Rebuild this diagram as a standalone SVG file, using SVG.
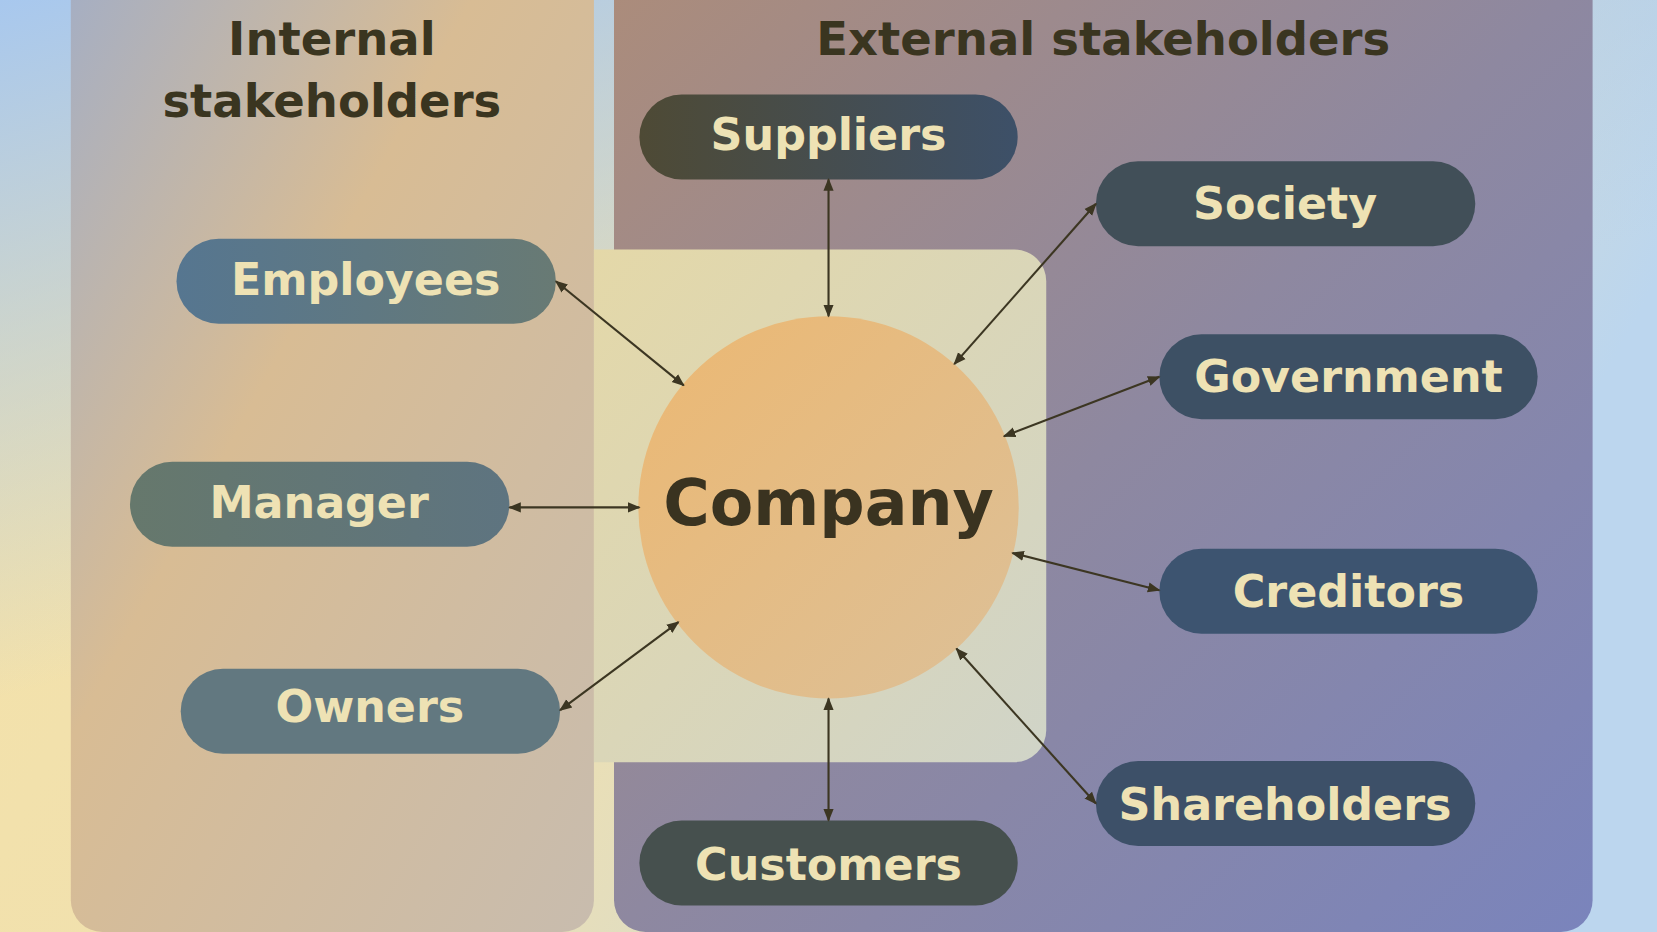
<svg xmlns="http://www.w3.org/2000/svg" width="1657" height="932" viewBox="0 0 1657 932">
<defs>
<linearGradient id="bg" x1="0" y1="0" x2="1" y2="0.3"><stop offset="0" stop-color="#f5e2a8"/><stop offset="0.5" stop-color="#efe0b0"/><stop offset="1" stop-color="#bcd6ee"/></linearGradient>
<linearGradient id="bgtl" x1="0" y1="0" x2="0.3" y2="0.6"><stop offset="0" stop-color="#a8c8ee"/><stop offset="1" stop-color="#a8c8ee" stop-opacity="0"/></linearGradient>
<linearGradient id="lp" x1="0" y1="0" x2="1" y2="1"><stop offset="0" stop-color="#a4aec4"/><stop offset="0.4" stop-color="#d8bc94"/><stop offset="1" stop-color="#c8bcae"/></linearGradient>
<linearGradient id="rp" x1="0" y1="0" x2="1" y2="1"><stop offset="0" stop-color="#ac8c7a"/><stop offset="0.5" stop-color="#8e88a0"/><stop offset="1" stop-color="#7a84bc"/></linearGradient>
<linearGradient id="cp" x1="0" y1="0" x2="1" y2="1"><stop offset="0" stop-color="#e4d8a8"/><stop offset="1" stop-color="#d0d4c8"/></linearGradient>
<linearGradient id="circ" x1="0" y1="0" x2="1" y2="1"><stop offset="0" stop-color="#ecb872"/><stop offset="1" stop-color="#dcc098"/></linearGradient>
<linearGradient id="pd" x1="0" y1="0" x2="1" y2="0"><stop offset="0" stop-color="#4e4a35"/><stop offset="1" stop-color="#3d5068"/></linearGradient>
<linearGradient id="pl" x1="0" y1="0" x2="1" y2="0"><stop offset="0" stop-color="#567690"/><stop offset="1" stop-color="#687a74"/></linearGradient>
<linearGradient id="pm" x1="0" y1="0" x2="1" y2="0"><stop offset="0" stop-color="#66786c"/><stop offset="1" stop-color="#5e7480"/></linearGradient>
<marker id="a" viewBox="0 0 10 10" refX="9" refY="5" markerWidth="6" markerHeight="6" orient="auto-start-reverse"><path d="M0,1 L10,5 L0,9 z" fill="#3c3622"/></marker>
</defs>
<style>
.t{font-family:"DejaVu Sans",sans-serif;font-weight:bold;font-size:42px;fill:#eee2b4;text-anchor:middle;dominant-baseline:central}
.h{font-family:"DejaVu Sans",sans-serif;font-weight:bold;font-size:44px;fill:#3a3520;text-anchor:middle}
.c{stroke:#3c3622;stroke-width:2;fill:none;marker-start:url(#a);marker-end:url(#a)}
</style>
<rect width="1657" height="932" fill="url(#bg)"/>
<rect width="1657" height="932" fill="url(#bgtl)"/>
<g transform="scale(1.0568,1.0615)">
<g id="internal"><rect x="67" y="-30" width="495" height="908" rx="30" fill="url(#lp)"/><text class="h" x="314" y="52">Internal</text><text class="h" x="314" y="110">stakeholders</text></g>
<g id="external"><rect x="581" y="-30" width="926" height="908" rx="30" fill="url(#rp)"/><text class="h" x="1044" y="52">External stakeholders</text></g>
<g id="centerpanel"><path d="M562,235 H960 a30,30 0 0 1 30,30 V688 a30,30 0 0 1 -30,30 H562 z" fill="url(#cp)"/></g>
<g id="company"><circle cx="784" cy="478" r="180" fill="url(#circ)"/><text class="t" x="784" y="474" style="font-size:60px;fill:#3a3320">Company</text></g>
<g id="suppliers"><rect x="605" y="89" width="358" height="80" rx="40" fill="url(#pd)"/><text class="t" x="784" y="127">Suppliers</text></g>
<g id="society"><rect x="1037" y="152" width="359" height="80" rx="40" fill="#414f58"/><text class="t" x="1216" y="192">Society</text></g>
<g id="employees"><rect x="167" y="225" width="359" height="80" rx="40" fill="url(#pl)"/><text class="t" x="346" y="263">Employees</text></g>
<g id="government"><rect x="1097" y="315" width="358" height="80" rx="40" fill="#3d5064"/><text class="t" x="1276" y="355">Government</text></g>
<g id="manager"><rect x="123" y="435" width="359" height="80" rx="40" fill="url(#pm)"/><text class="t" x="302" y="473">Manager</text></g>
<g id="creditors"><rect x="1097" y="517" width="358" height="80" rx="40" fill="#3d5470"/><text class="t" x="1276" y="557">Creditors</text></g>
<g id="owners"><rect x="171" y="630" width="359" height="80" rx="40" fill="#627880"/><text class="t" x="350" y="666">Owners</text></g>
<g id="shareholders"><rect x="1037" y="717" width="359" height="80" rx="40" fill="#3d5068"/><text class="t" x="1216" y="758">Shareholders</text></g>
<g id="customers"><rect x="605" y="773" width="358" height="80" rx="40" fill="#46504e"/><text class="t" x="784" y="814">Customers</text></g>
<g id="connectors">
<line class="c" x1="784" y1="169" x2="784" y2="298"/>
<line class="c" x1="1037" y1="192" x2="903" y2="343"/>
<line class="c" x1="526" y1="265" x2="647" y2="363"/>
<line class="c" x1="1097" y1="355" x2="950" y2="411"/>
<line class="c" x1="482" y1="478" x2="605" y2="478"/>
<line class="c" x1="1097" y1="556" x2="958" y2="521"/>
<line class="c" x1="530" y1="669" x2="642" y2="586"/>
<line class="c" x1="1037" y1="757" x2="905" y2="611"/>
<line class="c" x1="784" y1="773" x2="784" y2="658"/>
</g>
</g>
</svg>
